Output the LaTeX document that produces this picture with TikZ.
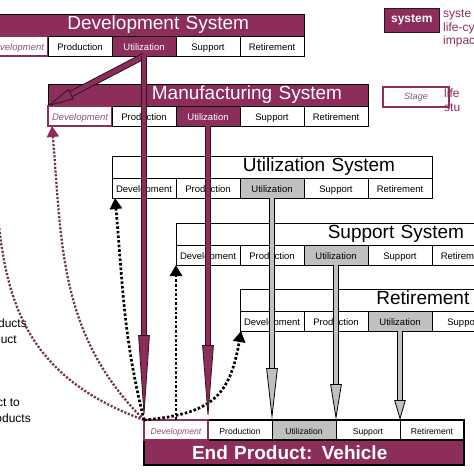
\documentclass[tikz,border=0pt]{standalone}
\usepackage{fontspec}
\setmainfont{Liberation Sans}
\usetikzlibrary{arrows.meta,positioning}

\definecolor{sysmaroon}{RGB}{140,45,92}
\definecolor{sysedge}{RGB}{45,20,32}
\definecolor{stagegray}{RGB}{192,192,192}
\definecolor{linkmaroon}{RGB}{112,55,85}
\definecolor{devtext}{RGB}{135,85,115}

\begin{document}
\begin{tikzpicture}[x=1pt, y=-1pt,
  stagebox/.style={rectangle, draw=black, fill=white, line width=0.8pt,
                   minimum width=64pt, minimum height=20pt, inner sep=0pt,
                   outer sep=0pt, text height=8.5pt, text depth=0pt,
                   font=\fontsize{9.5}{11}\selectfont},
  devstage/.style={stagebox, draw=sysmaroon, line width=1.8pt, text=devtext,
                   font=\itshape\fontsize{9.5}{11}\selectfont},
  usestage/.style={stagebox, fill=sysmaroon, text=white},
  grystage/.style={stagebox, fill=stagegray},
  epstage/.style ={stagebox, font=\fontsize{8.6}{10}\selectfont},
  sysbar/.style  ={rectangle, draw=black, fill=sysmaroon, text=white,
                   line width=0.8pt, minimum width=320pt, minimum height=22pt,
                   inner ysep=0pt, outer sep=0pt, anchor=north west,
                   align=right, font=\fontsize{19}{22}\selectfont},
  plainbar/.style={sysbar, fill=white, text=black},
  epbar/.style   ={sysbar, line width=2.5pt, minimum height=25pt, align=left,
                   font=\bfseries\fontsize{19}{22}\selectfont},
  useflow/.style 2 args={line width=4.6pt, draw=sysmaroon,
                   preaction={draw=sysedge, line width=6.6pt, arrows=-,
                              shorten >=#2},
                   -{Triangle[length=#1, width=11.5pt, line width=0.8pt,
                              fill=sysmaroon, color=sysedge]}},
  gryflow/.style 2 args={line width=4.4pt, draw=stagegray,
                   preaction={draw=black, line width=6.4pt, arrows=-,
                              shorten >=#2},
                   -{Triangle[length=#1, width=11.5pt, line width=0.8pt,
                              fill=stagegray, color=black]}},
  linkdots/.style={line width=2.7pt, dash pattern=on 2.6pt off 2pt,
                   -{Triangle[length=11pt, width=12pt]}},
  linkdotsm/.style={line width=2.3pt, draw=linkmaroon,
                   dash pattern=on 2.2pt off 1.6pt,
                   -{Triangle[length=11pt, width=12pt, fill=sysmaroon,
                              color=sysmaroon]}},
  keytext/.style ={anchor=north west, align=left, inner sep=0pt,
                   text=sysmaroon, font=\fontsize{12}{13.5}\selectfont},
  note/.style    ={anchor=east, inner sep=0pt, font=\fontsize{12}{14}\selectfont},
]
\useasboundingbox (0,0) rectangle (474,474);
\clip (0,0) rectangle (474,474);

% === Development system ===
\node[sysbar, inner xsep=55pt, text width=210pt] (dT) at (-16,14) {Development System};
\node[devstage, anchor=north west] (dD) at (dT.south west) {Development};
\node[stagebox, right=0pt of dD] (dP) {Production};
\node[usestage, right=0pt of dP] (dU) {Utilization};
\node[stagebox, right=0pt of dU] (dS) {Support};
\node[stagebox, right=0pt of dS] (dR) {Retirement};

% === Manufacturing system ===
\node[sysbar, inner xsep=26pt, text width=268pt] (mT) at (48,84) {Manufacturing System};
\node[devstage, anchor=north west] (mD) at (mT.south west) {Development};
\node[stagebox, right=0pt of mD] (mP) {Production};
\node[usestage, right=0pt of mP] (mU) {Utilization};
\node[stagebox, right=0pt of mU] (mS) {Support};
\node[stagebox, right=0pt of mS] (mR) {Retirement};

% === Utilization system ===
\node[plainbar, inner xsep=37pt, text width=246pt] (uT) at (112,156) {Utilization System};
\node[stagebox, anchor=north west] (uD) at (uT.south west) {Development};
\node[stagebox, right=0pt of uD] (uP) {Production};
\node[grystage, right=0pt of uP] (uU) {Utilization};
\node[stagebox, right=0pt of uU] (uS) {Support};
\node[stagebox, right=0pt of uS] (uR) {Retirement};

% === Support system ===
\node[plainbar, inner xsep=32pt, text width=256pt] (sT) at (176,223) {Support System};
\node[stagebox, anchor=north west] (sD) at (sT.south west) {Development};
\node[stagebox, right=0pt of sD] (sP) {Production};
\node[grystage, right=0pt of sP] (sU) {Utilization};
\node[stagebox, right=0pt of sU] (sS) {Support};
\node[stagebox, right=0pt of sS] (sR) {Retirement};

% === Retirement system ===
\node[plainbar, inner xsep=21pt, text width=278pt] (rT) at (240,289) {Retirement System};
\node[stagebox, anchor=north west] (rD) at (rT.south west) {Development};
\node[stagebox, right=0pt of rD] (rP) {Production};
\node[grystage, right=0pt of rP] (rU) {Utilization};
\node[stagebox, right=0pt of rU] (rS) {Support};
\node[stagebox, right=0pt of rS] (rR) {Retirement};

% === End product ===
\node[epstage, anchor=north west] (eP) at (208,420) {Production};
\node[epstage, fill=stagegray, right=0pt of eP] (eU) {Utilization};
\node[epstage, right=0pt of eU] (eS) {Support};
\node[epstage, right=0pt of eS] (eR) {Retirement};
\node[epbar, inner xsep=48pt, text width=224pt] (eT) at (144,440) {End Product: Vehicle};
\draw[line width=2.5pt] ([yshift=20pt]eT.north west) rectangle (eT.south east);
\node[devstage, font=\itshape\fontsize{8.6}{10}\selectfont, left=0pt of eP] (eD) {Development};

% === Legend ===
\node[rectangle, fill=sysmaroon, draw=sysedge, line width=0.6pt, minimum width=55pt,
      minimum height=24pt, anchor=north west, text=white,
      font=\bfseries\fontsize{12}{14}\selectfont] (keySys) at (384,8) {system};
\node[keytext] (keySysTxt) at (443,10) {syste\\life-cy\\impac};
\node[rectangle, draw=sysmaroon, line width=2pt, fill=white, minimum width=66pt,
      minimum height=20pt, anchor=north west, text=devtext,
      font=\itshape\fontsize{9}{11}\selectfont] (keyStage) at (382,86) {Stage};
\node[keytext] (keyStageTxt) at (444,89) {life\\stu};

% === Side notes ===
\node[note] (noteA) at (27,323) {ducts};
\node[note] (noteB) at (17,340) {uct};
\node[note] (noteC) at (20,403) {ct to};
\node[note] (noteD) at (31,418) {oducts};

% === Development links ===
\draw[linkdotsm] (eD.north west) .. controls +(-167,-61) and +(15,177) .. ([xshift=4pt]dD.south west);
\draw[linkdotsm] (eD.north west) .. controls +(-85,-85) and +(10,120) .. ([xshift=4pt]mD.south west);
\draw[linkdots] (eD.north west) .. controls +(-21,-85) and +(8,88) .. ([xshift=3pt]uD.south west);
\draw[linkdots] (eD.north) -- (sD.south west);
\draw[linkdots] (eD.north west) .. controls +(68,-6) and +(-11,65) .. ([xshift=1pt]rD.south west);

% === Utilization flows ===
\draw[useflow={26pt}{20pt}] (dU.south) -- (mD.north west);
\draw[useflow={85pt}{66pt}] (dU.south) -- (eD.north west);
\draw[useflow={75pt}{58pt}] (mU.south) -- (eD.north east);
\draw[gryflow={52pt}{40pt}] (uU.south) -- (eP.north east);
\draw[gryflow={36pt}{28pt}] (sU.south) -- (eU.north east);
\draw[gryflow={20pt}{15pt}] (rU.south) -- (eS.north east);

\end{tikzpicture}
\end{document}
